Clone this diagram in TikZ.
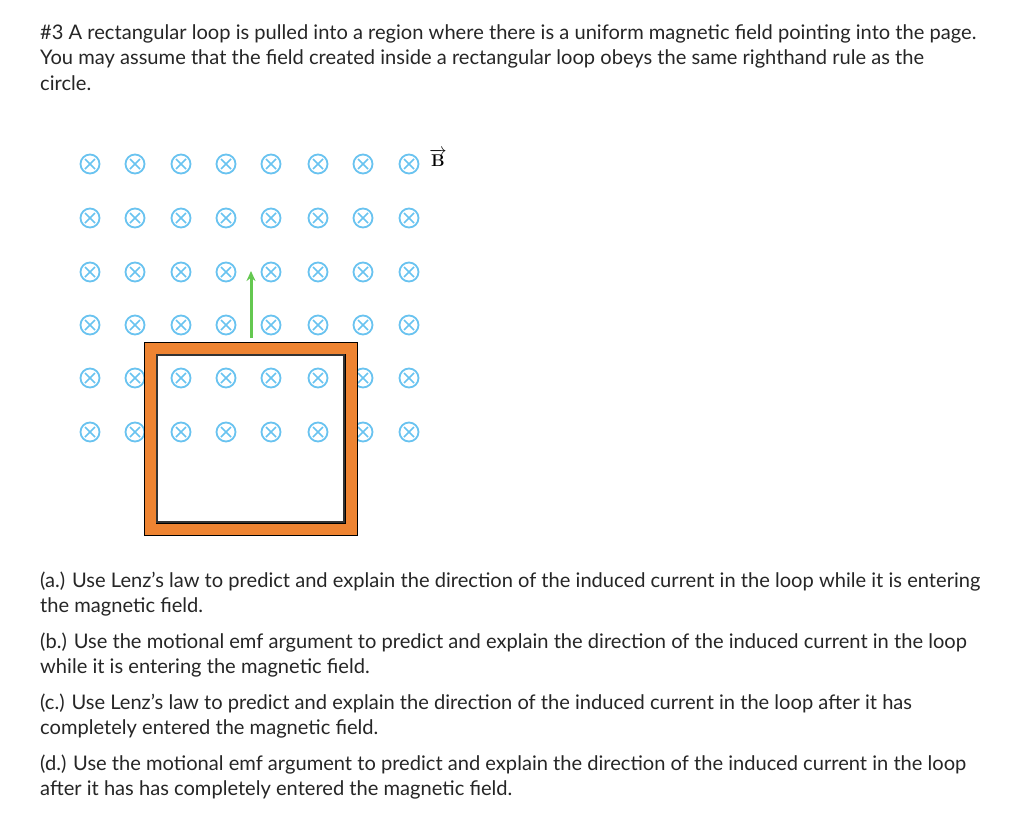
\documentclass[tikz,border=0pt]{standalone}
\usepackage{fontspec}
\setmainfont{Lato}
\newfontfamily\lmserif{Latin Modern Roman}
\usetikzlibrary{arrows.meta}
\begin{document}
\begin{tikzpicture}[x=1pt,y=-1pt,
  fieldsym/.style={draw=fieldblue,line width=1.8pt,circle,minimum size=19pt,inner sep=0pt,
     path picture={\draw[fieldblue,line width=1.6pt] (path picture bounding box.north west)++(4.5pt,-4.5pt) -- ([shift={(-4.5pt,4.5pt)}]path picture bounding box.south east)
       ([shift={(4.5pt,4.5pt)}]path picture bounding box.south west) -- ([shift={(-4.5pt,-4.5pt)}]path picture bounding box.north east);}},
  txt/.style={anchor=base west,inner sep=0pt,font=\fontsize{20.1}{24}\selectfont,text=black!85}]
\definecolor{fieldblue}{RGB}{105,195,240}
\definecolor{loopor}{RGB}{238,132,50}
\definecolor{arrgreen}{RGB}{100,200,80}
\useasboundingbox (0,0) rectangle (1024,819);
\fill[white] (0,0) rectangle (1024,819);
\node[txt] (t1) at (40,39) {\#3 A rectangular loop is pulled into a region where there is a uniform magnetic field pointing into the page.};
\node[txt] (t2) at (40,64) {You may assume that the field created inside a rectangular loop obeys the same righthand rule as the};
\node[txt] (t3) at (40,90) {circle.};
\foreach \c [count=\i] in {90,135,181,226,271,318,363,409}{
  \foreach \r [count=\j] in {164,218,272,325,378,432}{
    \node[fieldsym] (f\i\j) at (\c,\r) {};
  }}
\node[inner sep=0pt,font=\fontsize{17}{17}\selectfont] (B) at (438,158) {$\overrightarrow{\hbox{\lmserif\bfseries B}}$};
\draw[black,line width=1pt,fill=loopor,even odd rule] (144,342) rectangle (357,535) (156,354) rectangle (345,523);
\draw[black!80,line width=2.5pt] (157,355) rectangle (344,522);
\coordinate (a0) at (251,338);
\coordinate (a1) at (251,271);
\draw[arrgreen,line width=3pt,-{Stealth[length=10pt,width=9pt]}] (a0) -- (a1);
\node[txt] (pa1) at (40,587) {(a.) Use Lenz’s law to predict and explain the direction of the induced current in the loop while it is entering};
\node[txt] (pa2) at (40,612) {the magnetic field.};
\node[txt] (pb1) at (40,648) {(b.) Use the motional emf argument to predict and explain the direction of the induced current in the loop};
\node[txt] (pb2) at (40,673) {while it is entering the magnetic field.};
\node[txt] (pc1) at (40,709) {(c.) Use Lenz’s law to predict and explain the direction of the induced current in the loop after it has};
\node[txt] (pc2) at (40,734) {completely entered the magnetic field.};
\node[txt] (pd1) at (40,770) {(d.) Use the motional emf argument to predict and explain the direction of the induced current in the loop};
\node[txt] (pd2) at (40,795) {after it has has completely entered the magnetic field.};
\end{tikzpicture}
\end{document}
